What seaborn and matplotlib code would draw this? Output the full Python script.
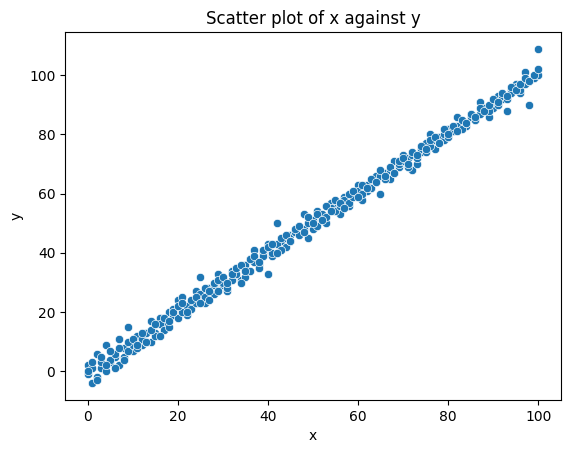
import matplotlib
matplotlib.use("Agg")
import matplotlib.pyplot as plt
import seaborn as sns
import pandas as pd

x_vals = list(range(101))
y_a = [2,-4,6,1,9,3,5,11,8,15,
       7,12,9,10,17,13,18,16,20,21,
       24,25,19,22,27,32,23,28,26,33,
       29,27,34,35,31,32,38,41,36,40,
       43,39,50,44,42,46,47,49,53,45,
       48,54,52,50,57,55,53,59,56,60,
       63,58,61,62,66,60,67,65,71,69,
       73,72,68,70,74,77,80,75,79,78,
       82,81,86,84,83,87,85,91,88,86,
       89,93,92,88,95,97,94,101,90,99,
       109]
y_b = [-1,1,-2,3,0,4,6,2,5,7,
       9,8,11,13,10,12,16,14,15,19,
       18,20,22,21,23,26,25,24,29,27,
       30,28,31,33,30,36,34,37,35,39,
       33,40,43,41,45,44,47,46,48,50,
       51,49,53,52,55,54,56,58,57,59,
       61,60,63,62,64,66,65,68,67,70,
       71,69,73,72,75,74,76,78,77,80,
       79,81,83,82,84,86,85,87,89,88,
       91,90,93,92,94,96,95,97,98,99,
       100]
y_c = [0,3,-3,5,2,7,1,8,4,10,
       11,9,13,10,14,16,12,18,17,20,
       22,23,20,24,25,23,28,27,30,31,
       32,30,33,35,36,34,38,39,37,41,
       42,43,40,45,46,44,48,49,47,52,
       50,53,51,56,54,58,57,55,60,61,
       59,63,62,65,64,68,66,69,67,71,
       72,70,74,73,76,75,78,79,77,82,
       80,83,81,85,84,87,86,89,88,90,
       92,91,94,93,96,95,97,99,98,100,
       102]

df = pd.DataFrame({"x": x_vals * 3, "y": y_a + y_b + y_c})

fig, ax = plt.subplots(figsize=(5.71, 4.55), dpi=100)
fig.subplots_adjust(left=0.114, right=0.982, top=0.93, bottom=0.121)
sns.scatterplot(data=df, x="x", y="y", ax=ax)
ax.set_title("Scatter plot of x against y")
fig.savefig("out.png", dpi=100)
